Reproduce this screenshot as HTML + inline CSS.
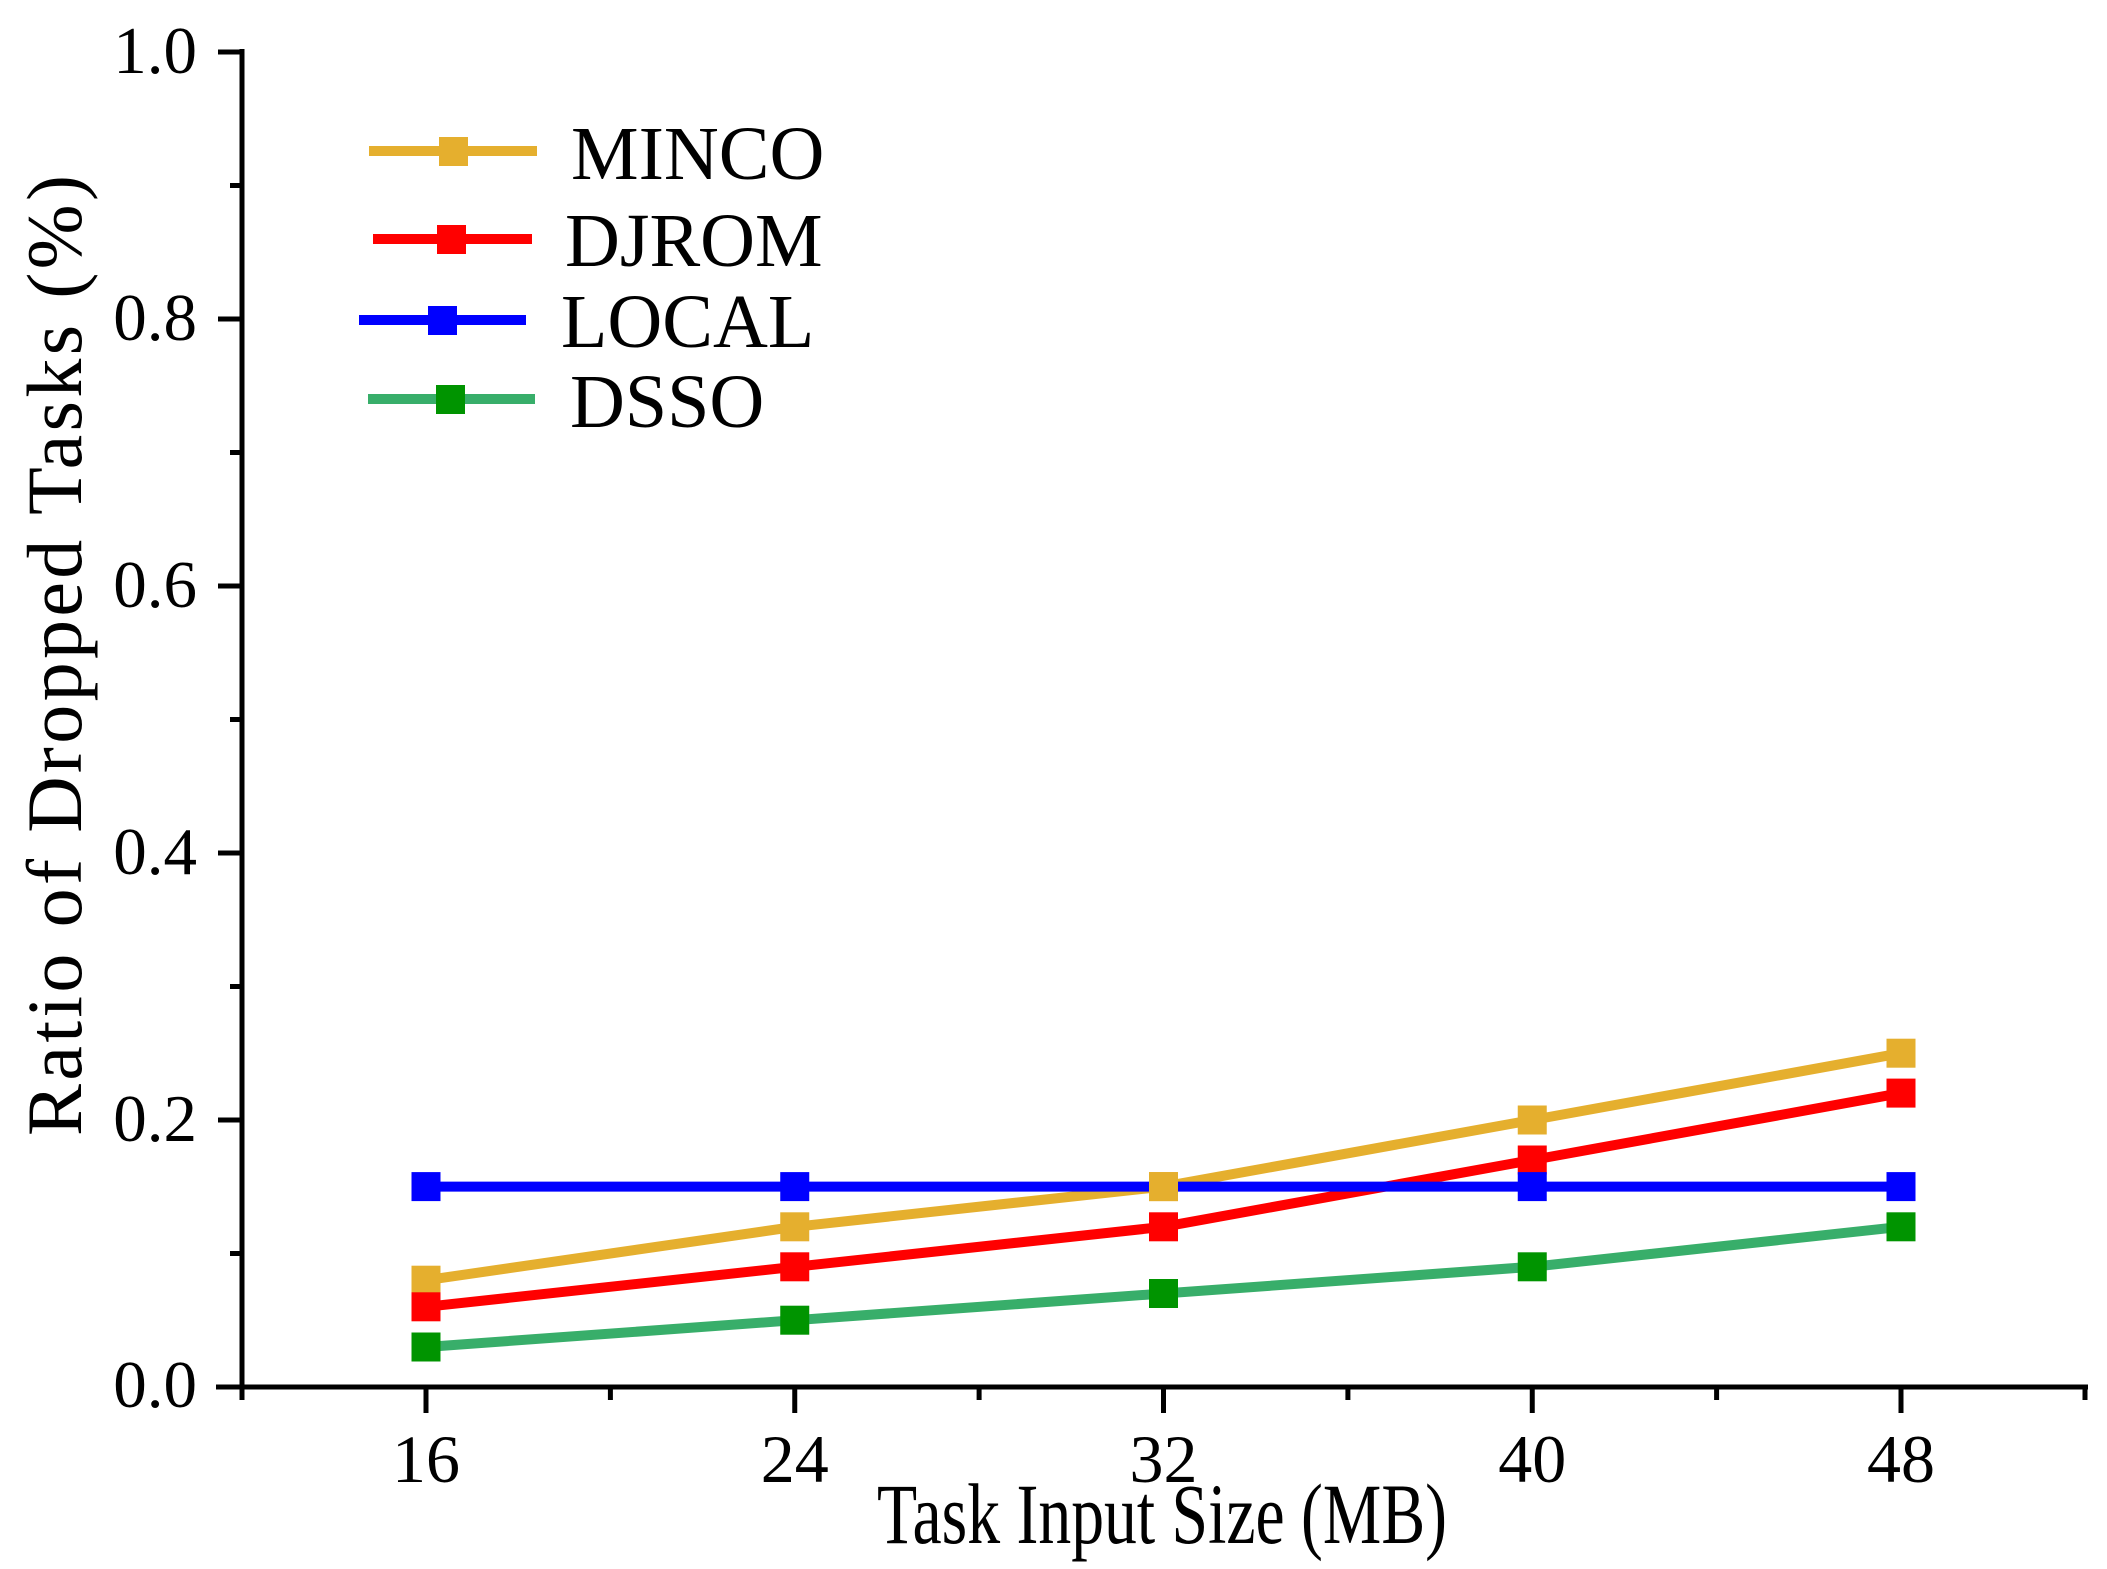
<!DOCTYPE html>
<html><head><meta charset="utf-8"><style>html,body{margin:0;padding:0;background:#fff}svg{display:block}</style></head>
<body>
<svg width="2107" height="1569" viewBox="0 0 2107 1569" xmlns="http://www.w3.org/2000/svg" font-family="'Liberation Serif', serif">
<rect width="2107" height="1569" fill="#fff"/>
<g stroke="#000" stroke-width="5" fill="none">
<line x1="242" y1="49" x2="242" y2="1400"/>
<line x1="216" y1="1387" x2="2088" y2="1387"/>
<!-- y major -->
<line x1="218" y1="52" x2="242" y2="52"/>
<line x1="218" y1="319" x2="242" y2="319"/>
<line x1="218" y1="586" x2="242" y2="586"/>
<line x1="218" y1="853" x2="242" y2="853"/>
<line x1="218" y1="1120" x2="242" y2="1120"/>
<!-- y minor -->
<line x1="230" y1="185.5" x2="242" y2="185.5"/>
<line x1="230" y1="452.5" x2="242" y2="452.5"/>
<line x1="230" y1="719.5" x2="242" y2="719.5"/>
<line x1="230" y1="986.5" x2="242" y2="986.5"/>
<line x1="230" y1="1253.5" x2="242" y2="1253.5"/>
<!-- x major -->
<line x1="426" y1="1387" x2="426" y2="1413"/>
<line x1="794.75" y1="1387" x2="794.75" y2="1413"/>
<line x1="1163.5" y1="1387" x2="1163.5" y2="1413"/>
<line x1="1532.25" y1="1387" x2="1532.25" y2="1413"/>
<line x1="1901" y1="1387" x2="1901" y2="1413"/>
<!-- x minor -->
<line x1="610.4" y1="1387" x2="610.4" y2="1400"/>
<line x1="979.1" y1="1387" x2="979.1" y2="1400"/>
<line x1="1347.9" y1="1387" x2="1347.9" y2="1400"/>
<line x1="1716.6" y1="1387" x2="1716.6" y2="1400"/>
<line x1="2085" y1="1387" x2="2085" y2="1400"/>
</g>
<g font-size="67" text-anchor="end" fill="#000">
<text x="197" y="73">1.0</text>
<text x="197" y="340">0.8</text>
<text x="197" y="607">0.6</text>
<text x="197" y="874">0.4</text>
<text x="197" y="1141">0.2</text>
<text x="197" y="1407">0.0</text>
</g>
<g font-size="68" text-anchor="middle" fill="#000">
<text x="426" y="1482">16</text>
<text x="794.75" y="1482">24</text>
<text x="1163.5" y="1482">32</text>
<text x="1532.25" y="1482">40</text>
<text x="1901" y="1482">48</text>
</g>
<text x="877" y="1543" font-size="86" textLength="570" lengthAdjust="spacingAndGlyphs">Task Input Size (MB)</text>
<text transform="translate(81,1136) rotate(-90)" font-size="78" textLength="961" lengthAdjust="spacing">Ratio of Dropped Tasks (%)</text>

<!-- series -->
<g fill="none" stroke-width="10" stroke-linejoin="round">
<polyline stroke="#E5AF2E" points="426,1280.2 794.75,1226.8 1163.5,1186.6 1532.25,1120 1901,1053.2"/>
<polyline stroke="#FF0000" points="426,1306.8 794.75,1266.8 1163.5,1226.8 1532.25,1160 1901,1093.1"/>
<polyline stroke="#0000FF" points="426,1186.6 794.75,1186.6 1163.5,1186.6 1532.25,1186.6 1901,1186.6"/>
<polyline stroke="#38AE6A" points="426,1347 794.75,1320.2 1163.5,1293.5 1532.25,1266.8 1901,1226.8"/>
</g>
<g>
<g fill="#E5AF2E"><rect x="411.5" y="1265.7" width="29" height="29"/><rect x="780.25" y="1212.3" width="29" height="29"/><rect x="1149" y="1172.1" width="29" height="29"/><rect x="1517.75" y="1105.5" width="29" height="29"/><rect x="1886.5" y="1038.7" width="29" height="29"/></g>
<g fill="#FF0000"><rect x="411.5" y="1292.3" width="29" height="29"/><rect x="780.25" y="1252.3" width="29" height="29"/><rect x="1149" y="1212.3" width="29" height="29"/><rect x="1517.75" y="1145.5" width="29" height="29"/><rect x="1886.5" y="1078.6" width="29" height="29"/></g>
<g fill="#0000FF"><rect x="411.5" y="1172.1" width="29" height="29"/><rect x="780.25" y="1172.1" width="29" height="29"/><rect x="1517.75" y="1172.1" width="29" height="29"/><rect x="1886.5" y="1172.1" width="29" height="29"/></g>
<rect x="1149" y="1172.1" width="29" height="29" fill="#E5AF2E"/>
<g fill="#009400"><rect x="411.5" y="1332.5" width="29" height="29"/><rect x="780.25" y="1305.7" width="29" height="29"/><rect x="1149" y="1279" width="29" height="29"/><rect x="1517.75" y="1252.3" width="29" height="29"/><rect x="1886.5" y="1212.3" width="29" height="29"/></g>
</g>

<!-- legend -->
<g stroke-width="10">
<line x1="369" y1="151" x2="537" y2="151" stroke="#E5AF2E"/>
<line x1="373" y1="239" x2="532" y2="239" stroke="#FF0000"/>
<line x1="359" y1="320" x2="526" y2="320" stroke="#0000FF"/>
<line x1="368" y1="399" x2="535" y2="399" stroke="#38AE6A"/>
</g>
<rect x="439" y="137" width="29" height="29" fill="#E5AF2E"/>
<rect x="437" y="225" width="29" height="29" fill="#FF0000"/>
<rect x="428" y="306" width="29" height="29" fill="#0000FF"/>
<rect x="436" y="385" width="29" height="29" fill="#009400"/>
<g font-size="76" fill="#000">
<text x="571" y="179">MINCO</text>
<text x="565" y="266">DJROM</text>
<text x="561" y="347">LOCAL</text>
<text x="570" y="427">DSSO</text>
</g>
</svg>
</body></html>
